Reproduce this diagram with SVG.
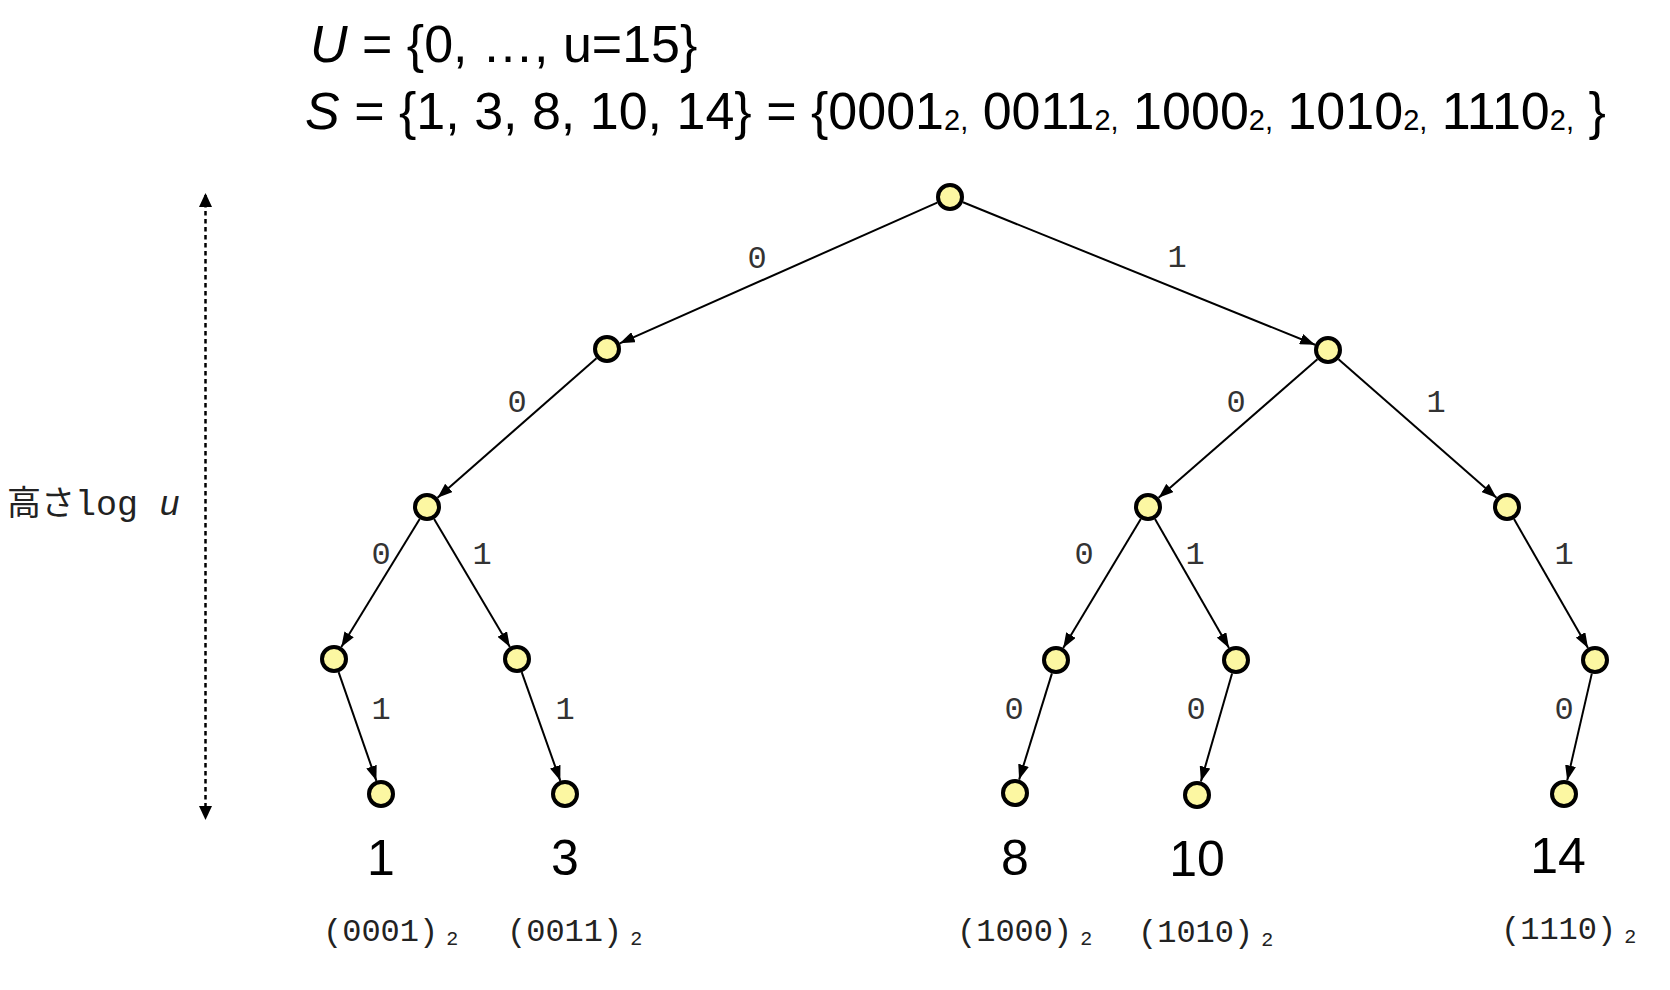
<svg xmlns="http://www.w3.org/2000/svg" width="1670" height="990" viewBox="0 0 1670 990">
<style>
.node{fill:#fcf7a2;stroke:#000;stroke-width:4}
.edge{fill:none;stroke:#000;stroke-width:2;marker-end:url(#ah)}
.lbl{font-family:"Liberation Mono","Courier New",monospace;font-size:32px;fill:#333;text-anchor:middle}
.num{font-family:"Liberation Sans",Arial,sans-serif;font-size:50px;fill:#000;text-anchor:middle}
.bin{font-family:"Liberation Mono","Courier New",monospace;font-size:32px;fill:#222}
.title{font-family:"Liberation Sans",Arial,sans-serif;font-size:52px;fill:#000}
.sub{font-size:29px}
</style>
<defs>
<marker id="ah" markerUnits="userSpaceOnUse" markerWidth="15" markerHeight="11" refX="15" refY="5.5" orient="auto">
<path d="M0,0 L15,5.5 L0,11 z" fill="#000"/>
</marker>
</defs>

<g id="title">
<text class="title" x="310" y="62"><tspan font-style="italic">U</tspan> = {0, …, u=15}</text>
<text class="title" x="305" y="129"><tspan font-style="italic">S</tspan> = {1, 3, 8, 10, 14} = {0001<tspan class="sub" dy="1">2,</tspan><tspan dy="-1"> 0011</tspan><tspan class="sub" dy="1">2,</tspan><tspan dy="-1"> 1000</tspan><tspan class="sub" dy="1">2,</tspan><tspan dy="-1"> 1010</tspan><tspan class="sub" dy="1">2,</tspan><tspan dy="-1"> 1110</tspan><tspan class="sub" dy="1">2,</tspan><tspan dy="-1"> }</tspan></text>
</g>

<g id="height">
<line x1="205.5" y1="195" x2="205.5" y2="816" stroke="#000" stroke-width="2.5" stroke-dasharray="4.5 3.5"/>
<path d="M199,207 L205.5,193 L212,207 z" fill="#000"/>
<path d="M199,806 L205.5,820 L212,806 z" fill="#000"/>
<text x="7" y="515" style="font-family:'Noto Sans CJK JP',sans-serif;font-size:34px;fill:#222">高さ<tspan style="font-family:'Liberation Mono','Courier New',monospace;font-size:35px">log <tspan font-style="italic">u</tspan></tspan></text>
</g>

<g id="connectors">
<path class="edge" d="M937.2,202.7 L619.8,343.3"/>
<path class="edge" d="M963.0,202.3 L1315.0,344.7"/>
<path class="edge" d="M596.5,358.2 L437.5,497.8"/>
<path class="edge" d="M1317.4,359.2 L1158.6,497.8"/>
<path class="edge" d="M1338.5,359.2 L1496.5,497.8"/>
<path class="edge" d="M419.7,518.9 L341.3,647.1"/>
<path class="edge" d="M434.1,519.0 L509.9,647.0"/>
<path class="edge" d="M1140.8,519.0 L1063.2,648.0"/>
<path class="edge" d="M1155.0,519.1 L1229.0,647.9"/>
<path class="edge" d="M1514.0,519.1 L1588.0,647.9"/>
<path class="edge" d="M338.6,672.2 L376.4,780.8"/>
<path class="edge" d="M521.7,672.2 L560.3,780.8"/>
<path class="edge" d="M1051.9,673.4 L1019.1,779.6"/>
<path class="edge" d="M1232.1,673.5 L1200.9,781.5"/>
<path class="edge" d="M1591.8,673.6 L1567.2,780.4"/>
<text class="lbl" x="757" y="268">0</text>
<text class="lbl" x="1177" y="267">1</text>
<text class="lbl" x="517" y="412">0</text>
<text class="lbl" x="1236" y="412">0</text>
<text class="lbl" x="1436" y="412">1</text>
<text class="lbl" x="381" y="564">0</text>
<text class="lbl" x="482" y="564">1</text>
<text class="lbl" x="1084" y="564">0</text>
<text class="lbl" x="1195" y="564">1</text>
<text class="lbl" x="1564" y="564">1</text>
<text class="lbl" x="381" y="719">1</text>
<text class="lbl" x="565" y="719">1</text>
<text class="lbl" x="1014" y="719">0</text>
<text class="lbl" x="1196" y="719">0</text>
<text class="lbl" x="1564" y="719">0</text>
</g>

<g id="n-root"><circle class="node" cx="950" cy="197" r="12"/></g>
<g id="n-0"><circle class="node" cx="607" cy="349" r="12"/></g>
<g id="n-1"><circle class="node" cx="1328" cy="350" r="12"/></g>
<g id="n-00"><circle class="node" cx="427" cy="507" r="12"/></g>
<g id="n-10"><circle class="node" cx="1148" cy="507" r="12"/></g>
<g id="n-11"><circle class="node" cx="1507" cy="507" r="12"/></g>
<g id="n-000"><circle class="node" cx="334" cy="659" r="12"/></g>
<g id="n-001"><circle class="node" cx="517" cy="659" r="12"/></g>
<g id="n-100"><circle class="node" cx="1056" cy="660" r="12"/></g>
<g id="n-101"><circle class="node" cx="1236" cy="660" r="12"/></g>
<g id="n-111"><circle class="node" cx="1595" cy="660" r="12"/></g>
<g id="n-0001"><circle class="node" cx="381" cy="794" r="12"/><text class="num" x="381" y="875">1</text><text class="bin" x="323" y="941">(0001)<tspan font-size="20" dx="8" dy="4">2</tspan></text></g>
<g id="n-0011"><circle class="node" cx="565" cy="794" r="12"/><text class="num" x="565" y="875">3</text><text class="bin" x="507" y="941">(0011)<tspan font-size="20" dx="8" dy="4">2</tspan></text></g>
<g id="n-1000"><circle class="node" cx="1015" cy="793" r="12"/><text class="num" x="1015" y="875">8</text><text class="bin" x="957" y="941">(1000)<tspan font-size="20" dx="8" dy="4">2</tspan></text></g>
<g id="n-1010"><circle class="node" cx="1197" cy="795" r="12"/><text class="num" x="1197" y="876">10</text><text class="bin" x="1138" y="942">(1010)<tspan font-size="20" dx="8" dy="4">2</tspan></text></g>
<g id="n-1110"><circle class="node" cx="1564" cy="794" r="12"/><text class="num" x="1558" y="873">14</text><text class="bin" x="1501" y="939">(1110)<tspan font-size="20" dx="8" dy="4">2</tspan></text></g>
</svg>
